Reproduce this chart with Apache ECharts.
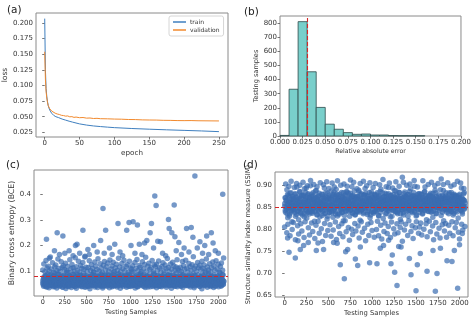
<!DOCTYPE html>
<html><head><meta charset="utf-8">
<script src="https://cdn.jsdelivr.net/npm/echarts@6/dist/echarts.min.js"></script>
<style>html,body{margin:0;padding:0;background:#fff}#c{width:474px;height:321px}</style>
</head><body><div id="c"></div>
<script>
// ---------- (a) loss curves ----------
const trainEpochs = [0,1,2,3,4,5,6,8,10,13,16,20,25,30,35,40,50,60,70,80,90,100,125,150,175,200,225,250];
const trainLoss   = [0.207,0.125,0.095,0.082,0.074,0.068,0.064,0.059,0.0555,0.052,0.050,0.0485,0.0462,0.0445,0.0428,0.0413,0.0385,0.0366,0.0352,0.0342,0.0333,0.0325,0.0311,0.0300,0.0290,0.0281,0.0272,0.0261];
const valEpochs = [0,1,2,3,4,5,6,7,8,10,12,15,18,21,24,27,30,33,36,39,42,45,50,55,60,65,70,75,80,90,100,110,120,130,140,150,160,170,180,190,200,210,220,230,240,250];
const valLoss   = [0.154,0.11,0.09,0.08,0.073,0.068,0.065,0.063,0.061,0.059,0.0572,0.0556,0.0543,0.0535,0.0522,0.0518,0.0509,0.0512,0.0498,0.0501,0.0489,0.0494,0.0484,0.0487,0.0477,0.0479,0.0471,0.0474,0.0468,0.0466,0.0462,0.0460,0.0455,0.0454,0.0449,0.0447,0.0446,0.0442,0.0441,0.0438,0.0437,0.0438,0.0435,0.0434,0.0433,0.0432];

// ---------- (b) histogram of relative absolute error ----------
const binStarts = [0,0.01,0.02,0.03,0.04,0.05,0.06,0.07,0.08,0.09,0.10,0.11,0.12,0.13,0.14,0.15];
const binWidth = 0.01;
const binCounts = [4,332,812,456,203,84,48,24,12,14,7,7,3,2,2,2];
const meanRAE = 0.0322;

// ---------- (c) BCE per testing sample ----------
const sampleSpan = 2060;
const bceCore = [
.052,.067,.041,.078,.059,.046,.083,.063,.038,.071,.055,.090,.049,.064,.035,.074,.058,.044,.086,.061,
.047,.072,.056,.039,.081,.066,.051,.093,.043,.069,.057,.034,.076,.062,.048,.088,.053,.042,.070,.059,
.065,.045,.079,.054,.037,.068,.050,.085,.060,.044,.073,.032,.063,.056,.096,.047,.070,.040,.058,.082,
.049,.075,.061,.036,.067,.053,.089,.045,.072,.058,.041,.064,.080,.051,.033,.069,.055,.087,.046,.062,
.071,.043,.057,.084,.050,.066,.039,.077,.060,.048,.092,.054,.068,.037,.074,.059,.045,.081,.052,.065,
.040,.063,.078,.055,.031,.070,.049,.086,.058,.067,.044,.075,.053,.095,.061,.038,.072,.056,.047,.083,
.058,.036,.069,.051,.080,.062,.046,.073,.042,.089,.057,.065,.034,.077,.050,.068,.043,.084,.060,.054,
.075,.052,.041,.066,.087,.047,.059,.035,.071,.063,.049,.082,.056,.039,.070,.045,.094,.061,.053,.067,
.044,.068,.057,.079,.038,.064,.052,.090,.046,.073,.060,.033,.076,.055,.085,.048,.066,.041,.072,.058,
.062,.049,.083,.056,.070,.037,.065,.050,.078,.043,.059,.088,.054,.067,.040,.074,.051,.097,.063,.046,
.053,.077,.045,.061,.034,.072,.058,.084,.048,.066,.039,.070,.055,.081,.044,.063,.091,.050,.068,.057,
.069,.042,.060,.087,.051,.064,.036,.075,.057,.047,.079,.062,.038,.071,.053,.086,.045,.066,.059,.074,
.048,.063,.076,.040,.058,.092,.052,.067,.043,.070,.056,.035,.082,.061,.049,.073,.064,.041,.078,.055,
.066,.054,.039,.080,.061,.047,.071,.058,.089,.044,.065,.052,.075,.037,.068,.056,.083,.049,.060,.043,
.057,.081,.050,.064,.033,.073,.046,.060,.085,.054,.069,.042,.077,.059,.048,.094,.062,.039,.071,.052,
.074,.045,.067,.055,.079,.041,.063,.050,.070,.036,.088,.057,.066,.047,.080,.053,.044,.072,.061,.068,
.043,.060,.084,.049,.068,.056,.038,.076,.062,.051,.073,.045,.090,.058,.035,.067,.054,.081,.046,.064,
.061,.070,.047,.086,.053,.064,.042,.058,.078,.048,.066,.031,.071,.055,.083,.060,.044,.069,.052,.095,
.050,.065,.058,.037,.074,.062,.089,.046,.069,.054,.040,.079,.057,.067,.045,.072,.063,.036,.085,.056,
.068,.041,.073,.060,.052,.081,.047,.064,.039,.076,.058,.093,.050,.066,.043,.070,.055,.087,.048,.062];
const bceCore2 = [
.061,.047,.073,.055,.068,.042,.079,.058,.050,.066,.039,.071,.063,.053,.083,.045,.060,.075,.048,.057,
.070,.052,.044,.064,.081,.056,.040,.069,.059,.074,.046,.062,.051,.087,.066,.043,.072,.054,.078,.049,
.056,.076,.062,.038,.067,.053,.085,.048,.071,.060,.044,.079,.057,.065,.041,.073,.050,.068,.046,.080,
.064,.043,.058,.077,.051,.069,.045,.062,.088,.054,.072,.040,.066,.059,.075,.047,.082,.055,.063,.052,
.048,.067,.081,.046,.060,.074,.053,.041,.070,.057,.065,.084,.049,.072,.056,.039,.068,.061,.077,.044,
.073,.058,.050,.069,.042,.063,.078,.055,.047,.086,.060,.052,.074,.045,.067,.080,.054,.070,.043,.065,
.055,.080,.064,.049,.075,.057,.044,.066,.072,.051,.083,.062,.040,.069,.058,.076,.046,.063,.085,.053,
.068,.045,.071,.060,.054,.082,.048,.073,.059,.065,.043,.077,.056,.050,.087,.064,.042,.074,.057,.070,
.052,.074,.047,.066,.085,.044,.061,.056,.079,.047,.068,.054,.071,.062,.045,.060,.078,.051,.066,.082,
.077,.059,.065,.043,.070,.062,.051,.084,.057,.069,.041,.063,.080,.048,.073,.055,.067,.044,.058,.071,
.046,.069,.056,.078,.052,.047,.072,.064,.040,.076,.059,.086,.053,.067,.061,.049,.083,.065,.050,.074,
.063,.054,.082,.041,.066,.075,.057,.049,.068,.055,.081,.045,.070,.058,.077,.064,.052,.039,.072,.061,
.079,.050,.060,.073,.045,.068,.087,.053,.062,.044,.071,.066,.048,.084,.056,.069,.042,.075,.060,.047,
.058,.072,.043,.064,.081,.055,.049,.076,.061,.073,.052,.058,.079,.046,.065,.050,.086,.063,.054,.070,
.045,.063,.076,.052,.058,.084,.066,.044,.074,.050,.062,.070,.041,.078,.060,.073,.055,.067,.081,.049,
.071,.056,.048,.080,.067,.043,.059,.072,.054,.085,.047,.065,.076,.057,.049,.064,.071,.046,.062,.077,
.054,.078,.066,.050,.044,.075,.063,.057,.082,.046,.070,.053,.061,.067,.083,.042,.058,.072,.051,.066,
.067,.049,.061,.074,.058,.065,.040,.070,.053,.077,.060,.088,.047,.055,.071,.062,.076,.048,.069,.044,
.050,.073,.057,.062,.083,.048,.069,.061,.045,.066,.074,.051,.078,.064,.043,.080,.056,.068,.059,.075,
.076,.044,.070,.055,.064,.072,.052,.080,.067,.058,.046,.073,.063,.042,.069,.054,.066,.084,.050,.060];
const bceFringe = [
.105,.128,.098,.142,.112,.119,.101,.155,.108,.133,.095,.116,.124,.103,.147,.110,.099,.137,.114,.121,.106,
.131,.102,.118,.096,.145,.109,.126,.113,.100,.152,.117,.104,.139,.097,.122,.111,.134,.107,.158,.115,.099,
.114,.141,.103,.125,.110,.097,.136,.119,.106,.148,.101,.129,.112,.095,.123,.138,.105,.117,.132,.100,.144,
.108,.120,.135,.099,.113,.127,.104,.150,.116,.098,.130,.109,.143,.102,.118,.125,.096,.139,.111,.107,.121,
.097,.134,.111,.146,.103,.122,.115,.099,.137,.108,.126,.154,.100,.119,.131,.106,.113,.142,.098,.124,.117,
.127,.105,.140,.112,.096,.118,.133,.101,.124,.109,.149,.114,.098,.128,.107,.135,.120,.103,.116,.145,.110,
.102,.115,.099,.138,.121,.107,.143,.111,.097,.130,.117,.104,.125,.156,.109,.119,.100,.134,.113,.123,.106,
.139,.110,.124,.101,.147,.116,.105,.129,.098,.113,.136,.120,.103,.141,.108,.127,.097,.118,.132,.104,.151];
const bceOutliers = [[42,.225],[75,.15],[133,.18],[164,.25],[190,.165],[229,.237],[251,.17],[300,.18],[345,.16],[372,.2],[390,.205],[420,.17],[457,.26],[480,.155],[514,.185],[530,.165],[580,.2],[620,.175],[659,.22],[686,.345],[700,.17],[716,.26],[760,.19],[790,.165],[820,.205],[857,.286],[880,.175],[910,.16],[956,.26],[983,.29],[1005,.2],[1029,.293],[1050,.17],[1078,.28],[1100,.205],[1130,.165],[1160,.21],[1185,.22],[1223,.25],[1238,.286],[1262,.19],[1276,.393],[1291,.356],[1310,.217],[1340,.215],[1365,.17],[1400,.16],[1432,.302],[1440,.267],[1470,.25],[1497,.358],[1505,.234],[1520,.18],[1550,.212],[1580,.165],[1610,.19],[1638,.267],[1665,.175],[1691,.27],[1710,.232],[1733,.472],[1760,.19],[1790,.215],[1820,.17],[1845,.2],[1867,.237],[1890,.165],[1920,.25],[1940,.21],[1965,.18],[2000,.17],[2050,.40]];
const meanBCE = 0.0816;

// ---------- (d) SSIM per testing sample ----------
const ssimCore = [
.852,.871,.838,.864,.845,.889,.857,.826,.876,.849,.861,.834,.881,.855,.842,.868,.817,.859,.874,.847,
.866,.843,.879,.851,.829,.872,.858,.895,.840,.863,.853,.821,.869,.846,.884,.856,.837,.875,.861,.832,
.848,.877,.860,.835,.891,.854,.866,.841,.873,.825,.862,.850,.880,.839,.857,.870,.844,.898,.852,.867,
.874,.839,.853,.882,.847,.864,.818,.859,.871,.843,.887,.856,.833,.868,.850,.876,.840,.862,.828,.855,
.859,.846,.870,.831,.878,.853,.863,.842,.893,.857,.836,.872,.849,.865,.823,.881,.854,.845,.869,.838,
.843,.868,.855,.886,.840,.873,.851,.827,.862,.879,.845,.858,.870,.834,.890,.852,.866,.830,.876,.860,
.870,.850,.834,.865,.856,.844,.883,.861,.838,.872,.819,.854,.867,.847,.877,.841,.859,.885,.849,.863,
.855,.881,.847,.860,.829,.869,.842,.876,.852,.896,.863,.837,.874,.858,.845,.866,.832,.871,.853,.840,
.862,.839,.873,.851,.888,.846,.857,.820,.868,.855,.880,.843,.864,.850,.835,.877,.859,.848,.892,.857,
.848,.866,.858,.833,.875,.862,.841,.870,.853,.826,.867,.856,.884,.839,.872,.851,.863,.836,.859,.878,
.877,.852,.840,.869,.847,.882,.856,.864,.831,.873,.849,.860,.838,.890,.854,.845,.871,.862,.824,.866,
.851,.874,.863,.845,.858,.836,.879,.850,.868,.842,.894,.857,.847,.866,.828,.861,.876,.853,.844,.870,
.865,.842,.855,.887,.850,.869,.839,.860,.877,.852,.835,.873,.858,.846,.883,.864,.822,.856,.868,.849,
.844,.870,.859,.832,.866,.853,.884,.847,.862,.874,.840,.857,.869,.829,.851,.878,.843,.865,.855,.891,
.873,.855,.837,.868,.849,.876,.858,.841,.897,.862,.850,.830,.871,.856,.864,.845,.880,.852,.838,.867,
.850,.863,.879,.846,.872,.834,.860,.854,.866,.843,.885,.857,.848,.875,.821,.868,.853,.861,.840,.873,
.868,.845,.856,.881,.839,.864,.851,.873,.827,.859,.870,.846,.862,.888,.852,.836,.874,.849,.866,.857,
.856,.877,.842,.863,.854,.889,.848,.867,.860,.838,.875,.853,.819,.865,.846,.871,.859,.882,.843,.862,
.861,.848,.870,.835,.879,.857,.866,.844,.852,.883,.840,.869,.855,.832,.873,.863,.850,.876,.841,.858,
.847,.872,.854,.866,.825,.860,.876,.849,.870,.843,.861,.893,.856,.839,.867,.852,.880,.845,.864,.851];
const ssimCore2 = [
.858,.842,.871,.850,.866,.835,.878,.855,.846,.863,.830,.874,.860,.849,.882,.839,.857,.869,.844,.853,
.868,.851,.838,.862,.880,.854,.833,.867,.857,.873,.841,.860,.847,.885,.864,.836,.870,.852,.876,.845,
.854,.875,.861,.828,.865,.850,.883,.843,.869,.858,.837,.877,.855,.863,.834,.872,.848,.866,.840,.879,
.862,.836,.856,.876,.848,.868,.840,.860,.886,.852,.871,.832,.864,.857,.874,.843,.881,.853,.861,.849,
.845,.866,.879,.841,.858,.873,.851,.835,.869,.855,.863,.883,.846,.871,.854,.829,.867,.859,.876,.838,
.872,.856,.847,.867,.837,.861,.877,.853,.842,.884,.859,.849,.873,.840,.865,.879,.852,.869,.834,.864,
.853,.879,.863,.845,.874,.855,.838,.865,.871,.848,.882,.860,.831,.868,.856,.875,.841,.862,.884,.850,
.866,.840,.870,.858,.851,.881,.844,.872,.857,.864,.836,.876,.854,.847,.886,.863,.833,.873,.855,.869,
.849,.873,.842,.865,.884,.839,.860,.853,.878,.843,.867,.852,.870,.861,.838,.858,.877,.848,.865,.881,
.876,.857,.864,.837,.869,.861,.848,.883,.855,.868,.832,.862,.879,.844,.872,.853,.866,.839,.856,.870,
.841,.868,.854,.877,.850,.843,.871,.863,.830,.875,.858,.885,.851,.866,.860,.845,.882,.864,.847,.873,
.861,.852,.881,.834,.865,.874,.856,.846,.867,.853,.880,.840,.869,.857,.876,.863,.850,.829,.871,.860,
.878,.847,.859,.872,.840,.867,.886,.851,.861,.838,.870,.865,.844,.883,.854,.868,.835,.874,.859,.843,
.856,.871,.837,.863,.880,.853,.846,.875,.860,.872,.850,.857,.878,.841,.864,.847,.885,.862,.852,.869,
.840,.862,.875,.850,.857,.883,.865,.839,.873,.847,.861,.869,.832,.877,.859,.872,.854,.866,.880,.845,
.870,.854,.844,.879,.866,.836,.858,.871,.852,.884,.842,.864,.875,.856,.846,.863,.870,.841,.861,.876,
.852,.877,.865,.848,.839,.874,.862,.856,.881,.841,.869,.851,.860,.866,.882,.835,.857,.871,.849,.865,
.866,.846,.860,.873,.857,.864,.831,.869,.852,.876,.859,.887,.843,.854,.870,.861,.875,.845,.868,.838,
.848,.872,.856,.861,.882,.844,.868,.860,.840,.865,.873,.849,.877,.863,.836,.879,.855,.867,.858,.874,
.875,.839,.869,.854,.863,.871,.850,.879,.866,.857,.842,.872,.862,.834,.868,.853,.865,.883,.847,.859];
const ssimFringe = [
.805,.902,.792,.811,.897,.785,.908,.799,.815,.894,.776,.903,.808,.789,.899,.812,.796,.906,.781,.817,.893,
.898,.803,.787,.910,.814,.795,.901,.779,.809,.896,.818,.791,.905,.801,.772,.900,.813,.786,.907,.797,.892,
.810,.784,.904,.798,.895,.816,.777,.909,.806,.790,.899,.812,.783,.902,.819,.794,.897,.804,.775,.911,.800,
.788,.906,.813,.796,.891,.807,.780,.903,.817,.793,.908,.802,.774,.898,.811,.786,.905,.815,.797,.894,.782,
.903,.799,.818,.785,.900,.809,.778,.912,.795,.814,.896,.790,.806,.904,.781,.816,.893,.801,.789,.907,.812,
.792,.897,.804,.816,.773,.906,.798,.811,.899,.786,.819,.902,.795,.808,.779,.910,.803,.817,.895,.791,.805,
.814,.787,.909,.800,.895,.812,.783,.901,.818,.794,.906,.807,.776,.898,.815,.789,.903,.802,.780,.913,.810,
.901,.796,.813,.782,.905,.809,.791,.897,.817,.785,.900,.803,.815,.908,.793,.778,.904,.811,.798,.892,.806];
const ssimOutliers = [[34,.78],[50,.748],[122,.735],[152,.774],[179,.754],[217,.763],[270,.77],[362,.752],[381,.769],[445,.754],[560,.77],[600,.768],[636,.72],[682,.688],[697,.749],[720,.754],[808,.733],[835,.718],[865,.76],[971,.724],[1055,.722],[1093,.757],[1130,.763],[1188,.775],[1215,.722],[1230,.742],[1257,.703],[1284,.673],[1303,.761],[1330,.76],[1345,.917],[1425,.734],[1444,.697],[1501,.661],[1516,.72],[1550,.745],[1627,.705],[1695,.752],[1722,.66],[1741,.70],[1780,.757],[1855,.729],[1912,.727],[1939,.752],[1977,.667],[1998,.765],[2030,.79]];
const meanSSIM = 0.8504;

// ---------- tick labels ----------
const ticksA_x = [0,50,100,150,200,250];
const ticksA_y = [0.025,0.05,0.075,0.1,0.125,0.15,0.175,0.2];
const ticksB_x = [0,0.025,0.05,0.075,0.1,0.125,0.15,0.175,0.2];
const ticksB_y = [0,100,200,300,400,500,600,700,800];
const ticksS_x = [0,250,500,750,1000,1250,1500,1750,2000];
const ticksC_y = [0.1,0.2,0.3,0.4];
const ticksD_y = [0.65,0.7,0.75,0.8,0.85,0.9];

// ---------- build ----------
const FF = 'DejaVu Sans';
const spread = (arr, off) => arr.map((v,i) => [Math.round((off || 0) + i * sampleSpan / (arr.length - 1)), v]);

function axis(gi, min, max, ticks, fmt, name, gap, vertical, nameSize, labelSize) {
  return {
    type: 'value', gridIndex: gi, min: min, max: max,
    name: name, nameLocation: 'middle', nameGap: gap,
    nameRotate: vertical ? 90 : 0,
    nameTextStyle: {fontFamily: FF, fontSize: nameSize, color: '#333'},
    axisLine: {show: false},
    axisTick: {show: true, length: 2.5, inside: false, customValues: ticks, lineStyle: {color: '#555', width: 0.8}},
    axisLabel: {customValues: ticks, formatter: fmt, fontFamily: FF, fontSize: labelSize || 7, color: '#333', margin: 3},
    splitLine: {show: false}
  };
}
const gridBase = {show: true, borderColor: '#8a8a8a', borderWidth: 1, backgroundColor: 'transparent', containLabel: false};
const dotStyle = {color: '#3a6cb0', opacity: 0.7};
const DOT = 5.5;
const redLine = (key, v) => ({silent: true, symbol: 'none', label: {show: false},
  lineStyle: {color: '#d62728', type: [4, 2], width: 1.1}, data: [{[key]: v}]});
const titleStyle = {fontFamily: FF, fontSize: 10.5, fontWeight: 'normal', color: '#222'};

const chart = echarts.init(document.getElementById('c'), null, {renderer: 'canvas'});
chart.setOption({
  animation: false,
  backgroundColor: '#fff',
  title: [
    {text: '(a)', left: 2, top: 0, textStyle: titleStyle},
    {text: '(b)', left: 239, top: 2, textStyle: titleStyle},
    {text: '(c)', left: 1, top: 155, textStyle: titleStyle},
    {text: '(d)', left: 238, top: 155, textStyle: titleStyle}
  ],
  legend: {
    data: ['train', 'validation'], left: 169, top: 16, orient: 'vertical', itemGap: 2,
    itemWidth: 13, itemHeight: 1.5, icon: 'rect', padding: [3, 4, 3, 4],
    borderColor: '#ccc', borderWidth: 0.8, borderRadius: 2, backgroundColor: '#fff',
    textStyle: {fontFamily: FF, fontSize: 6, color: '#333', padding: [0,0,0,-1]}
  },
  grid: [
    Object.assign({left: 36, top: 13, width: 192, height: 124}, gridBase),
    Object.assign({left: 280, top: 16, width: 184, height: 120}, gridBase),
    Object.assign({left: 34, top: 170, width: 194, height: 126}, gridBase),
    Object.assign({left: 275, top: 172, width: 193, height: 125}, gridBase)
  ],
  xAxis: [
    axis(0, -12.5, 263, ticksA_x, v => String(v), 'epoch', 13, false, 7.2),
    axis(1, 0, 0.2, ticksB_x, v => v.toFixed(3), 'Relative absolute error', 12, false, 6.2),
    axis(2, -100, 2110, ticksS_x, v => String(v), 'Testing Samples', 13, false, 6.4, 6.5),
    axis(3, -110, 2095, ticksS_x, v => String(v), 'Testing Samples', 12.5, false, 6.8)
  ],
  yAxis: [
    axis(0, 0.0175, 0.216, ticksA_y, v => v.toFixed(3), 'loss', 26, true, 7.5),
    axis(1, 0, 852, ticksB_y, v => String(v), 'Testing samples', 19, true, 6.6),
    axis(2, 0.003, 0.495, ticksC_y, v => v.toFixed(1), 'Binary cross entropy (BCE)', 18, true, 7.8),
    axis(3, 0.647, 0.929, ticksD_y, v => v.toFixed(2), 'Structure similarity index measure (SSIM)', 23, true, 6.7)
  ],
  series: [
    {name: 'train', type: 'line', xAxisIndex: 0, yAxisIndex: 0, symbol: 'none', smooth: false,
     lineStyle: {color: '#3f7fbf', width: 1}, itemStyle: {color: '#3f7fbf'},
     data: trainEpochs.map((e,i) => [e, trainLoss[i]])},
    {name: 'validation', type: 'line', xAxisIndex: 0, yAxisIndex: 0, symbol: 'none', smooth: false,
     lineStyle: {color: '#f28a2e', width: 1}, itemStyle: {color: '#f28a2e'},
     data: valEpochs.map((e,i) => [e, valLoss[i]])},
    {type: 'custom', xAxisIndex: 1, yAxisIndex: 1,
     renderItem: function (params, api) {
       const p0 = api.coord([api.value(0), api.value(2)]);
       const p1 = api.coord([api.value(1), 0]);
       return {type: 'rect', shape: {x: p0[0], y: p0[1], width: p1[0] - p0[0], height: p1[1] - p0[1]},
               style: {fill: '#79cfcb', stroke: '#2d4a4a', lineWidth: 0.8}};
     },
     encode: {x: [0, 1], y: 2},
     data: binStarts.map((s,i) => [s, s + binWidth, binCounts[i]]),
     markLine: redLine('xAxis', meanRAE)},
    {type: 'scatter', xAxisIndex: 2, yAxisIndex: 2, symbolSize: DOT, itemStyle: dotStyle, data: spread(bceFringe)},
    {type: 'scatter', xAxisIndex: 2, yAxisIndex: 2, symbolSize: DOT, itemStyle: dotStyle, data: bceOutliers},
    {type: 'scatter', xAxisIndex: 2, yAxisIndex: 2, symbolSize: DOT, itemStyle: dotStyle, data: spread(bceCore)},
    {type: 'scatter', xAxisIndex: 2, yAxisIndex: 2, symbolSize: DOT, itemStyle: dotStyle, data: spread(bceCore2, 2),
     markLine: redLine('yAxis', meanBCE)},
    {type: 'scatter', xAxisIndex: 3, yAxisIndex: 3, symbolSize: DOT, itemStyle: dotStyle, data: spread(ssimFringe)},
    {type: 'scatter', xAxisIndex: 3, yAxisIndex: 3, symbolSize: DOT, itemStyle: dotStyle, data: ssimOutliers},
    {type: 'scatter', xAxisIndex: 3, yAxisIndex: 3, symbolSize: DOT, itemStyle: dotStyle, data: spread(ssimCore)},
    {type: 'scatter', xAxisIndex: 3, yAxisIndex: 3, symbolSize: DOT, itemStyle: dotStyle, data: spread(ssimCore2, 2),
     markLine: redLine('yAxis', meanSSIM)}
  ]
});
</script></body></html>
